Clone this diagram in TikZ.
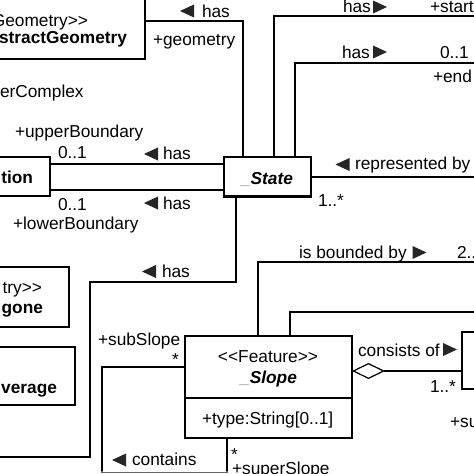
\documentclass[tikz,border=0pt]{standalone}
\usepackage{fontspec}
\setmainfont{Liberation Sans}[Ligatures=TeXOff]
\usetikzlibrary{arrows.meta,calc}
\begin{document}
\begin{tikzpicture}[x=1pt,y=-1pt,
  box/.style={draw, line width=2.7pt, inner sep=0pt, outer sep=0pt, rectangle},
  conn/.style={draw, line width=1.2pt},
  lbl/.style={inner sep=0pt, outer sep=0pt, font=\fontsize{17.3}{20}\selectfont},
  lblb/.style={inner sep=0pt, outer sep=0pt, font=\fontsize{17.3}{20}\selectfont\bfseries},
  lblbi/.style={inner sep=0pt, outer sep=0pt, font=\fontsize{17.3}{20}\selectfont\bfseries\itshape},
  tri/.style={fill=black!85},
  ltri/.pic={\fill[tri] (-7,0) -- (7,-6.5) -- (7,6.5) -- cycle;},
  rtri/.pic={\fill[tri] (7,0) -- (-7,-6.5) -- (-7,6.5) -- cycle;}
]
\useasboundingbox (0,0) rectangle (474,474);
\fill[white] (0,0) rectangle (474,474);
\clip (0,0) rectangle (474,474);

% boxes
\node[box, minimum width=205pt, minimum height=84pt] (geom) at (42.5,17) {};
\node[box, minimum width=110pt, minimum height=39pt] (tion) at (-5,176.5) {};
\node[box, minimum width=87pt, minimum height=39.5pt] (state) at (267.5,176.75) {};
\node[box, minimum width=129pt, minimum height=60pt] (gone) at (4.5,297) {};
\node[box, minimum width=135pt, minimum height=58pt] (verage) at (7.5,376) {};
\node[box, minimum width=167pt, minimum height=102pt] (slope) at (268.5,387) {};
\node[box, minimum width=78pt, minimum height=57pt] (part) at (501,360.5) {};
\coordinate (sd) at (0,398);
\draw[line width=2.7pt] (slope.west |- sd) -- (slope.east |- sd);

% box texts
\node[lbl, anchor=base east] (tg1) at (88,26) {Geometry>>};
\node[lblb, anchor=base east] (tg2) at (127,43) {stractGeometry};
\node[lblb, anchor=base east] (tti) at (33,183) {tion};
\node[lblbi, anchor=base] (tst) at (267,184) {\textcolor{black!45}{\_}State};
\node[lbl, anchor=base east] (tgo1) at (42,293) {try>>};
\node[lblb, anchor=base east] (tgo2) at (43,313) {gone};
\node[lblb, anchor=base east] (tve) at (57,393) {verage};
\node[lbl, anchor=base] (tsl1) at (268,362) {<<Feature>>};
\node[lblbi, anchor=base] (tsl2) at (268.5,383) {\textcolor{black!45}{\_}Slope};
\node[lbl, anchor=base west] (tsl3) at (202,424) {+type:String[0..1]};

% connectors
\coordinate (c1) at (243,21);
\draw[conn] (geom.east |- c1) -- (c1) -- (c1 |- state.north);
\coordinate (c2) at (274,16);
\coordinate (c2r) at (480,16);
\draw[conn] (c2 |- state.north) -- (c2) -- (c2r);
\coordinate (c3) at (295,63);
\draw[conn] (c3 |- state.north) -- (c3) -- (c3 -| c2r);
\coordinate (c4) at (0,164);
\draw[conn] (tion.east |- c4) -- (state.west |- c4);
\coordinate (c5) at (0,190);
\draw[conn] (tion.east |- c5) -- (state.west |- c5);
\coordinate (c6) at (480,177);
\draw[conn] (state.east |- c6) -- (c6);
\coordinate (c7a) at (236,282);
\coordinate (c7b) at (90,457);
\coordinate (c7c) at (-5,457);
\draw[conn] (c7a |- state.south) -- (c7a) -| (c7b) -- (c7c);
\coordinate (c8) at (258,262);
\draw[conn] (c8 |- slope.north) -- (c8) -- (c8 -| c2r);
\coordinate (c9) at (290,312);
\draw[conn] (c9 |- slope.north) -- (c9) -- (c9 -| c2r);
\coordinate (c10) at (0,371);
\draw[conn, {Diamond[open,length=33pt,width=16pt]}-] (slope.east |- c10) -- (part.west |- c10);
\coordinate (c11a) at (102,367);
\coordinate (c11b) at (227,472.5);
\draw[conn, draw=black!60] (slope.west |- c11a) -- (c11a) |- (c11b) -- (c11b |- slope.south);
\draw[conn] (slope.west |- c11a) -- (c11a) -- ($(c11a |- c11b)+(0,-1.5)$);
\draw[conn] (c11b |- slope.south) -- ($(c11b)+(0,-1.5)$);

% labels
\pic at (187,11) {ltri};
\node[lbl, anchor=base west] (l1) at (202,17) {has};
\node[lbl, anchor=base west] (l2) at (153,45) {+geometry};
\pic at (380,7) {rtri};
\node[lbl, anchor=base west] (l3) at (343,12) {has};
\node[lbl, anchor=base west] (l4) at (430,12) {+start};
\pic at (380,52) {rtri};
\node[lbl, anchor=base west] (l5) at (342,58) {has};
\node[lbl, anchor=base west] (l6) at (440,58) {0..1};
\node[lbl, anchor=base west] (l7) at (433,82) {+end};
\node[lbl, anchor=base west] (l8) at (0,97) {erComplex};
\node[lbl, anchor=base west] (l9) at (15,137) {+upperBoundary};
\node[lbl, anchor=base west] (l10) at (58,158) {0..1};
\pic at (151,154) {ltri};
\node[lbl, anchor=base west] (l11) at (163,159) {has};
\node[lbl, anchor=base west] (l12) at (58,210) {0..1};
\pic at (151,203) {ltri};
\node[lbl, anchor=base west] (l13) at (163,209) {has};
\node[lbl, anchor=base west] (l14) at (13,229) {+lowerBoundary};
\pic at (342.5,164.5) {ltri};
\node[lbl, anchor=base west] (l15) at (355,169) {represented by};
\node[lbl, anchor=base west] (l16) at (318,206) {1..*};
\pic at (149,271.5) {ltri};
\node[lbl, anchor=base west] (l17) at (162,277) {has};
\node[lbl, anchor=base west] (l18) at (98,345) {+subSlope};
\node[lbl, anchor=base west] (l19) at (172,365) {*};
\node[lbl, anchor=base west] (l20) at (299,258) {is bounded by};
\pic at (419.5,252.5) {rtri};
\node[lbl, anchor=base west] (l21) at (457,258) {2..};
\node[lbl, anchor=base west] (l22) at (358,356) {consists of};
\pic at (450,349.5) {rtri};
\node[lbl, anchor=base west] (l23) at (430,392) {1..*};
\node[lbl, anchor=base west] (l24) at (450,427) {+su};
\pic at (119,460) {ltri};
\node[lbl, anchor=base west] (l25) at (132,465) {contains};
\node[lbl, anchor=base west] (l26) at (231,460) {*};
\node[lbl, anchor=base west] (l27) at (232,474) {+superSlope};
\end{tikzpicture}
\end{document}
